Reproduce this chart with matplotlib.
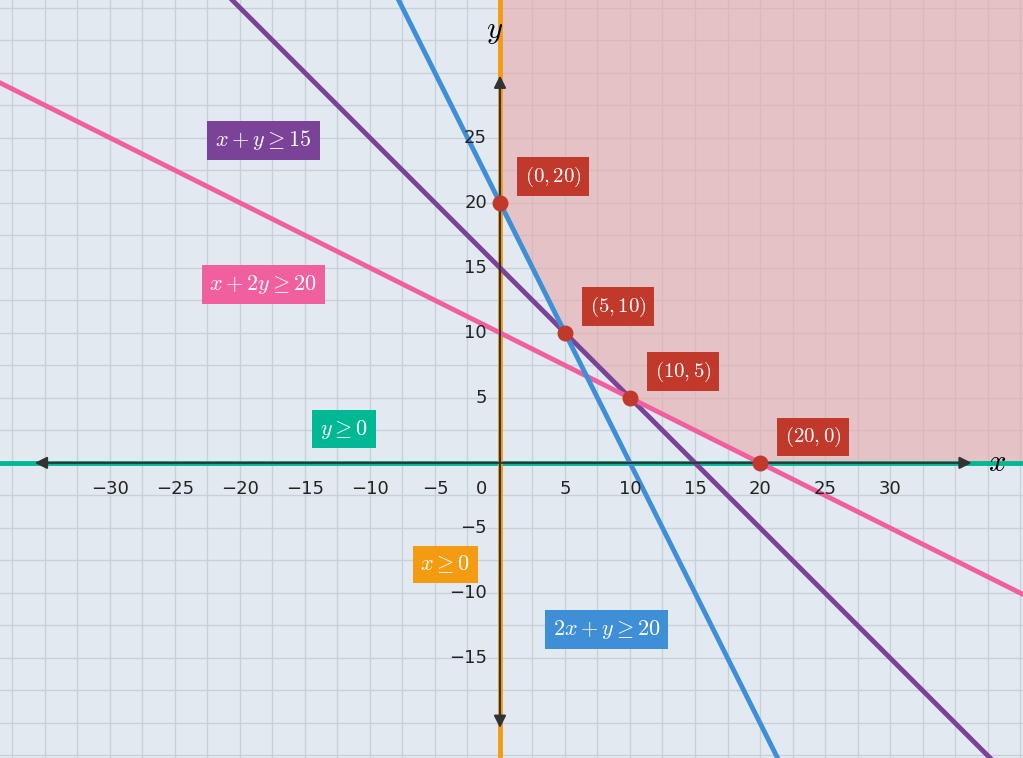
import numpy as np
import matplotlib.pyplot as plt
from matplotlib.patches import Polygon

plt.rcParams['mathtext.fontset'] = 'cm'

# constraint boundary lines: (a, b, c) for a*x + b*y = c
lines = {
    'x + y >= 15': (1, 1, 15),
    'x + 2y >= 20': (1, 2, 20),
    '2x + y >= 20': (2, 1, 20),
}
line_colors = ['#7b4397', '#f0609e', '#3f8fd6']
vertices = [(0, 20), (5, 10), (10, 5), (20, 0)]
vertex_labels = ['$(0,20)$', '$(5,10)$', '$(10,5)$', '$(20,0)$']
xticks = [-30, -25, -20, -15, -10, -5, 5, 10, 15, 20, 25, 30]
yticks = [-15, -10, -5, 5, 10, 15, 20, 25]

xmin, xmax = -38.46, 40.23
ymin, ymax = -22.7, 35.6

fig = plt.figure(figsize=(10.23, 7.58), dpi=100)
ax = fig.add_axes([0, 0, 1, 1])
ax.set_xlim(xmin, xmax)
ax.set_ylim(ymin, ymax)
ax.set_facecolor('#e2e9f1')
for s in ax.spines.values():
    s.set_visible(False)
ax.set_xticks([])
ax.set_yticks([])

# grid
for g in np.arange(-37.5, 41, 2.5):
    ax.axvline(g, color='#c8d0d8', lw=1, zorder=1)
for g in np.arange(-22.5, 36, 2.5):
    ax.axhline(g, color='#c8d0d8', lw=1, zorder=1)

# feasible region
poly = [(0, ymax)] + vertices + [(xmax, 0), (xmax, ymax)]
ax.add_patch(Polygon(poly, closed=True, facecolor='#e8a8a8', alpha=0.6, edgecolor='none', zorder=2))

# axes
ax.annotate('', xy=(36.5, 0), xytext=(-36, 0),
            arrowprops=dict(arrowstyle='<|-|>', color='#333333', lw=1.5, mutation_scale=18), zorder=4)
ax.annotate('', xy=(0, 30), xytext=(0, -20.6),
            arrowprops=dict(arrowstyle='<|-|>', color='#333333', lw=1.5, mutation_scale=18), zorder=4)
ax.text(38.2, 0, '$x$', fontsize=22, va='center', ha='center', zorder=6)
ax.text(-0.4, 33.2, '$y$', fontsize=22, va='center', ha='center', zorder=6)

# constraint lines
ax.axhline(0, color='#00b894', lw=3.5, zorder=3)
ax.axvline(0, color='#f39c12', lw=3.5, zorder=3)
xs = np.array([xmin, xmax])
for (a, b, c), col in zip(lines.values(), line_colors):
    ax.plot(xs, (c - a * xs) / b, color=col, lw=3.5, zorder=3)

for t in xticks:
    ax.text(t, -1.3, f'{t}'.replace('-', '\u2212'), ha='center', va='top', fontsize=13, color='#222222', zorder=5)
for t in yticks:
    ax.text(-1.0, t, f'{t}'.replace('-', '\u2212'), ha='right', va='center', fontsize=13, color='#222222', zorder=5)
ax.text(-1.0, -1.3, '0', ha='right', va='top', fontsize=13, color='#222222', zorder=5)

# vertices
vx, vy = zip(*vertices)
ax.scatter(vx, vy, s=110, color='#c0392b', zorder=7)
for (x, y), lab in zip(vertices, vertex_labels):
    ax.text(x + 1.9, y + 2.0, lab, fontsize=15, color='white', ha='left', va='center', zorder=8,
            bbox=dict(boxstyle='square,pad=0.35', facecolor='#c0392b', edgecolor='none'))

# labels
labs = [(-18.2, 24.8, '$x+y\\geq15$', '#7b4397'),
        (-18.2, 13.7, '$x+2y\\geq20$', '#f0609e'),
        (-12.0, 2.6, '$y\\geq0$', '#00b894'),
        (-4.2, -7.8, '$x\\geq0$', '#f39c12'),
        (8.2, -12.8, '$2x+y\\geq20$', '#3f8fd6')]
for x, y, t, c in labs:
    ax.text(x, y, t, fontsize=16, color='white', ha='center', va='center', zorder=8,
            bbox=dict(boxstyle='square,pad=0.35', facecolor=c, edgecolor='none'))

fig.savefig('out.png', dpi=100)
